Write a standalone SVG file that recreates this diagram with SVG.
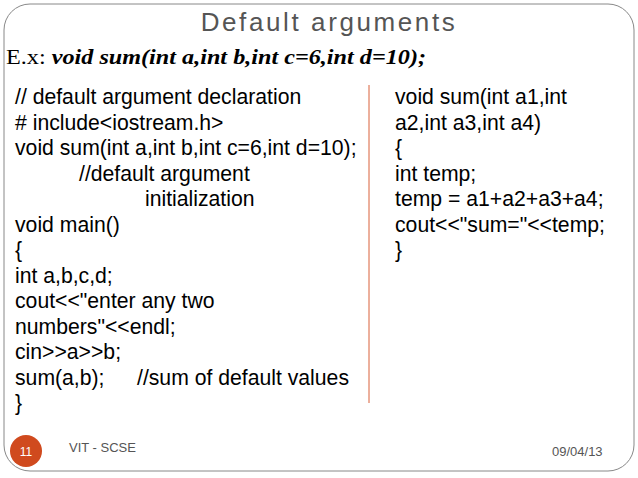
<svg xmlns="http://www.w3.org/2000/svg" width="638" height="478" viewBox="0 0 638 478">
<style>
.c{font-family:"Liberation Sans",Arial,sans-serif;font-size:21.2px;fill:#000}
.f{font-family:"Liberation Sans",Arial,sans-serif;font-size:13px;fill:#555}
</style>
<rect width="638" height="478" fill="#fff"/>
<rect x="4" y="4" width="630" height="467" rx="26" fill="none" stroke="#888" stroke-width="1"/>
<text x="329" y="31" text-anchor="middle" font-family="'Liberation Sans',Arial,sans-serif" font-size="26" letter-spacing="2.6" fill="#555">Default arguments</text>
<text x="6" y="64" font-family="'Liberation Serif',serif" font-size="21" fill="#000" textLength="420" lengthAdjust="spacingAndGlyphs">E.x: <tspan font-style="italic" font-weight="bold">void sum(int a,int b,int c=6,int d=10);</tspan></text>
<line x1="369" y1="85" x2="369" y2="403" stroke="#d9603a" stroke-width="1"/>
<g class="c">
<text class="c" x="15" y="104">// default argument declaration</text>
<text class="c" x="15" y="130"># include&lt;iostream.h&gt;</text>
<text class="c" x="15" y="155">void sum(int a,int b,int c=6,int d=10);</text>
<text class="c" x="79" y="181">//default argument</text>
<text class="c" x="145" y="206">initialization</text>
<text class="c" x="15" y="232">void main()</text>
<text class="c" x="15" y="257">{</text>
<text class="c" x="15" y="283">int a,b,c,d;</text>
<text class="c" x="15" y="308">cout&lt;&lt;"enter any two</text>
<text class="c" x="15" y="334">numbers"&lt;&lt;endl;</text>
<text class="c" x="15" y="359">cin&gt;&gt;a&gt;&gt;b;</text>
<text class="c" x="15" y="385">sum(a,b);<tspan x="137">//sum of default values</tspan></text>
<text class="c" x="15" y="410">}</text>
<text class="c" x="395" y="104">void sum(int a1,int</text>
<text class="c" x="395" y="130">a2,int a3,int a4)</text>
<text class="c" x="395" y="155">{</text>
<text class="c" x="395" y="181">int temp;</text>
<text class="c" x="395" y="206">temp = a1+a2+a3+a4;</text>
<text class="c" x="395" y="232">cout&lt;&lt;"sum="&lt;&lt;temp;</text>
<text class="c" x="395" y="257">}</text>
</g>
<circle cx="26" cy="451" r="16" fill="#d04a1e"/>
<text x="26" y="456" text-anchor="middle" font-family="'Liberation Sans',Arial,sans-serif" font-size="12" fill="#fff">11</text>
<text class="f" x="69" y="452">VIT - SCSE</text>
<text class="f" x="552" y="456">09/04/13</text>
</svg>
